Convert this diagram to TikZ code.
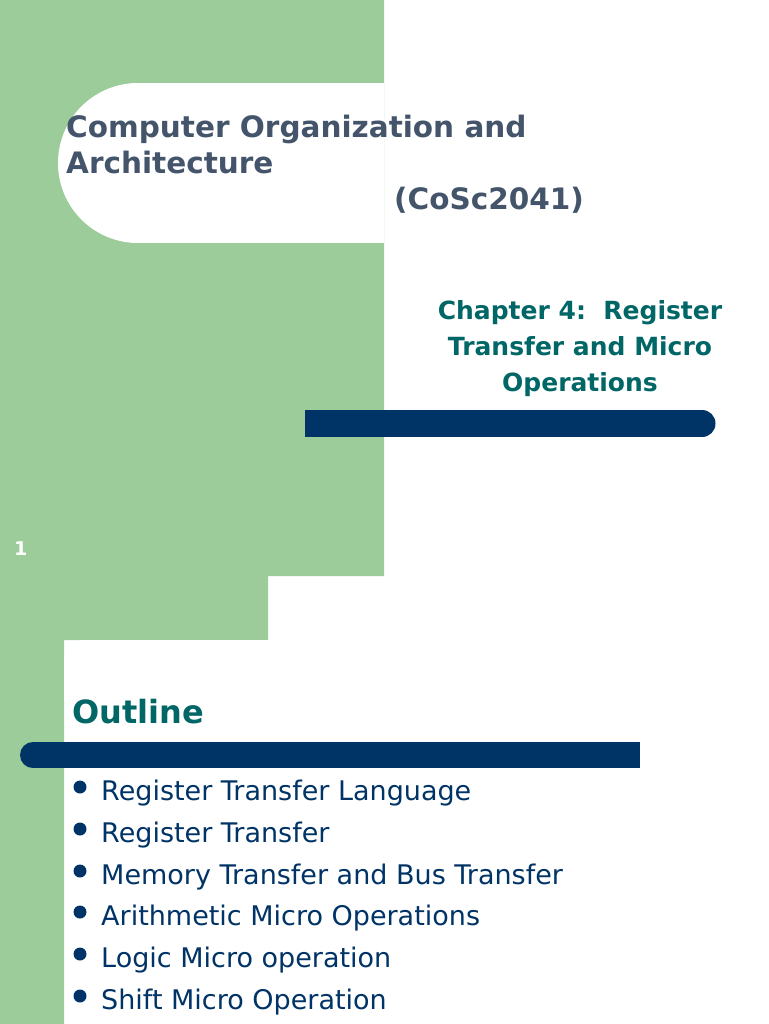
\documentclass[tikz,border=0pt]{standalone}
\usepackage{fontspec}
\setmainfont{DejaVu Sans}
\definecolor{grn}{HTML}{9CCC99}
\definecolor{navy}{HTML}{003366}
\definecolor{teal}{HTML}{006666}
\definecolor{slate}{HTML}{44546A}
\begin{document}
\begin{tikzpicture}[x=1pt,y=-1pt,
  title/.style={font=\bfseries\fontsize{29.5}{30}\selectfont,text=slate,anchor=base west,inner sep=0},
  chap/.style={font=\bfseries\fontsize{25}{36}\selectfont,text=teal,align=center,inner sep=0},
  item/.style={font=\fontsize{27}{30}\selectfont,text=navy,anchor=base west,inner sep=0},
  dot/.style={circle,fill=navy,inner sep=0,minimum size=13pt}]
\useasboundingbox (0,0) rectangle (768,1024);
\fill[white] (0,0) rectangle (768,1024);
\fill[grn] (0,0) -- (384,0) -- (384,576) -- (268,576) -- (268,640) -- (64,640) -- (64,1024) -- (0,1024) -- cycle;
\fill[white] (64,660) rectangle (268,700);
\fill[white] (84,640) rectangle (268,700);
\fill[white] (84,660) circle[radius=20];
\fill[white] (138,83) rectangle (384,243);
\fill[white] (138,163) circle[radius=80];
\fill[navy] (305,410) rectangle (702,437);
\fill[navy] (702,423.5) circle[radius=13.5];
\fill[navy] (33,742) rectangle (640,768);
\fill[navy] (33,755) circle[radius=13];
\node[title] (t1) at (66,138) {Computer Organization and};
\node[title] (t2) at (66,174) {Architecture};
\node[title] (t3) at (394,210) {(CoSc2041)};
\node[chap,anchor=north] (ch) at (580,300) {Chapter 4:\ \ Register\\Transfer and Micro\\Operations};
\node[font=\bfseries\fontsize{19}{22}\selectfont,text=white,anchor=base west,inner sep=0] (num) at (14,555) {1};
\node[font=\bfseries\fontsize{32}{40}\selectfont,text=teal,anchor=base west,inner sep=0] (out) at (72,723) {Outline};
\foreach \y/\t [count=\i] in {800/Register Transfer Language,842/Register Transfer,884/Memory Transfer and Bus Transfer,925/Arithmetic Micro Operations,967/Logic Micro operation,1009/Shift Micro Operation}{
  \node[dot] (b\i) at (80,\y-13) {};
  \node[item] (i\i) at (101,\y) {\t};
}
\end{tikzpicture}
\end{document}
